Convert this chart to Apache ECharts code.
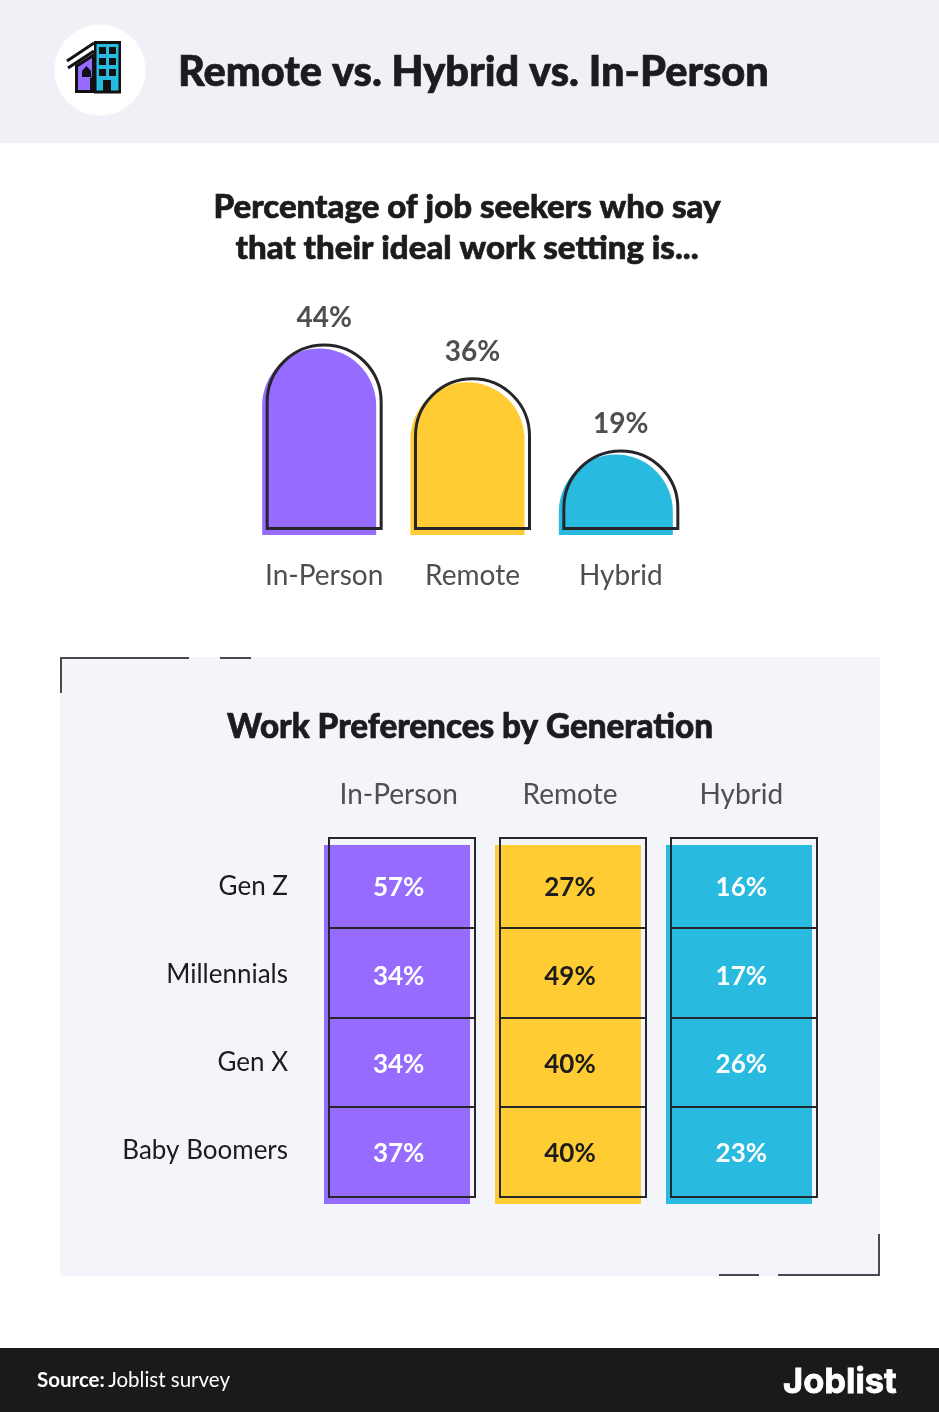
<!DOCTYPE html>
<html>
<head>
<meta charset="utf-8">
<style>html,body{margin:0;padding:0;background:#fff}#chart{width:939px;height:1412px}</style>
<script src="https://cdn.jsdelivr.net/npm/echarts@6/dist/echarts.min.js"></script>
</head>
<body>
<div id="chart"></div>
<script>
// Overall preference
const settings = ['In-Person', 'Remote', 'Hybrid'];
const overallShare = [44, 36, 19];

// Preference by generation
const generations = ['Gen Z', 'Millennials', 'Gen X', 'Baby Boomers'];
const inPersonByGeneration = [57, 34, 34, 37];
const remoteByGeneration = [27, 49, 40, 40];
const hybridByGeneration = [16, 17, 26, 23];

const PURPLE = '#966BFF', YELLOW = '#FFCC33', BLUE = '#29BADF';
const INK = '#1c1c1e', GREY = '#4f4f52', LINE = '#26262a';
const FONT = 'Lato';
const settingColours = [PURPLE, YELLOW, BLUE];
const valueTextColours = ['#ffffff', '#1c1c1e', '#ffffff'];
const tableValues = [inPersonByGeneration, remoteByGeneration, hybridByGeneration];

const chart = echarts.init(document.getElementById('chart'), null, { renderer: 'canvas' });

const bandAxis = (extra) => Object.assign({
  type: 'category', axisLine: { show: false }, axisTick: { show: false }, splitLine: { show: false }
}, extra);
const shareAxis = { type: 'value', min: 0, max: 50, show: false, splitLine: { show: false } };

// Table cell drawn on a settings × generations band grid
function cellItem(styleOf) {
  return function (params, api) {
    const centre = api.coord([api.value(0), api.value(1)]);
    const band = api.size([1, 1]);
    const w = Math.round(band[0] * 0.853);
    const x0 = Math.round(centre[0] - w / 2);
    const y0 = Math.round(centre[1] - band[1] / 2);
    const y1 = Math.round(centre[1] + band[1] / 2);
    return { type: 'rect', shape: { x: x0, y: y0, width: w, height: y1 - y0 }, style: styleOf() };
  };
}
const tableData = (col) => tableValues[col].map((v, row) => [settings[col], generations[row], v]);

const series = [
  // Arched bars: solid fill and offset outline
  {
    type: 'bar', xAxisIndex: 0, yAxisIndex: 0, z: 2, barWidth: 114, silent: true,
    data: overallShare.map((v, i) => ({ value: v, itemStyle: { color: settingColours[i] } })),
    itemStyle: { borderRadius: [57, 57, 0, 0] }
  },
  {
    type: 'bar', xAxisIndex: 1, yAxisIndex: 1, z: 3, barWidth: 117, silent: true,
    data: overallShare,
    itemStyle: { color: 'rgba(0,0,0,0)', borderColor: LINE, borderWidth: 3, borderRadius: [58, 58, 0, 0] },
    label: {
      show: true, position: 'top', distance: 11, formatter: '{c}%',
      fontFamily: FONT, fontWeight: 'bold', fontSize: 28, color: GREY
    }
  }
];

settings.forEach((name, col) => {
  series.push({
    type: 'custom', name, xAxisIndex: 2, yAxisIndex: 2, z: 2, silent: true,
    data: tableData(col), encode: { x: 0, y: 1 },
    renderItem: cellItem(() => ({ fill: settingColours[col] }))
  });
  series.push({
    type: 'custom', name, xAxisIndex: 3, yAxisIndex: 3, z: 3, silent: true,
    data: tableData(col), encode: { x: 0, y: 1 },
    renderItem: cellItem(() => ({ fill: 'rgba(0,0,0,0)', stroke: LINE, lineWidth: 2 }))
  });
  series.push({
    type: 'scatter', name, xAxisIndex: 4, yAxisIndex: 4, z: 4, silent: true, symbolSize: 0,
    itemStyle: { opacity: 1 },
    data: tableData(col), encode: { x: 0, y: 1 },
    label: {
      show: true, position: 'inside', formatter: (p) => p.value[2] + '%',
      fontFamily: FONT, fontWeight: 'bold', fontSize: 26, color: valueTextColours[col]
    }
  });
});

const headingStyle = {
  fontFamily: FONT, fontWeight: 900, color: INK, textBorderColor: INK, textBorderWidth: 0.7
};

const option = {
  animation: false,
  backgroundColor: '#ffffff',
  title: [
    {
      text: 'Remote vs. Hybrid vs. In-Person', left: 178, top: 52, padding: 0,
      textStyle: Object.assign({}, headingStyle, { fontSize: 41.5 })
    },
    {
      text: 'Percentage of job seekers who say\nthat their ideal work setting is...', left: 467, top: 187, padding: 0, textAlign: 'center',
      textStyle: Object.assign({}, headingStyle, { fontSize: 33, lineHeight: 41, align: 'center' })
    },
    {
      text: 'Work Preferences by Generation', left: 470, top: 711, padding: 0, textAlign: 'center',
      textStyle: Object.assign({}, headingStyle, { fontSize: 33.2 })
    }
  ],
  grid: [
    { left: 245, top: 323, width: 445, height: 212 },   // arch fills
    { left: 250, top: 318, width: 445, height: 212 },   // arch outlines
    { left: 311, top: 845, width: 514, height: 359 },   // table fills
    { left: 316, top: 838, width: 514, height: 359 },   // table outlines
    { left: 313, top: 843, width: 514, height: 355 },   // table values and column heads
    { left: 120, top: 843, width: 168, height: 352 }    // generation names
  ],
  xAxis: [
    bandAxis({ gridIndex: 0, data: settings, axisLabel: { show: false } }),
    bandAxis({
      gridIndex: 1, data: settings,
      axisLabel: { interval: 0, margin: 32, fontFamily: FONT, fontSize: 28, color: GREY }
    }),
    bandAxis({ gridIndex: 2, data: settings, axisLabel: { show: false } }),
    bandAxis({ gridIndex: 3, data: settings, axisLabel: { show: false } }),
    bandAxis({
      gridIndex: 4, data: settings, position: 'top',
      axisLabel: { interval: 0, margin: 34, fontFamily: FONT, fontSize: 28, color: GREY }
    }),
    { gridIndex: 5, type: 'value', show: false }
  ],
  yAxis: [
    Object.assign({ gridIndex: 0 }, shareAxis),
    Object.assign({ gridIndex: 1 }, shareAxis),
    bandAxis({ gridIndex: 2, data: generations, inverse: true, axisLabel: { show: false } }),
    bandAxis({ gridIndex: 3, data: generations, inverse: true, axisLabel: { show: false } }),
    bandAxis({ gridIndex: 4, data: generations, inverse: true, axisLabel: { show: false } }),
    bandAxis({
      gridIndex: 5, data: generations, inverse: true, position: 'right',
      axisLabel: { interval: 0, margin: 0, align: 'right', fontFamily: FONT, fontSize: 26, color: INK }
    })
  ],
  series,
  graphic: {
    elements: [
      // Page furniture
      { type: 'rect', z: 0, shape: { x: 0, y: 0, width: 939, height: 143 }, style: { fill: '#F0F1F7' } },
      { type: 'circle', z: 1, shape: { cx: 100, cy: 70, r: 45.5 }, style: { fill: '#ffffff' } },
      { type: 'rect', z: 0, shape: { x: 60, y: 657, width: 820, height: 619 }, style: { fill: '#F4F5FA' } },
      { type: 'rect', z: 0, shape: { x: 0, y: 1348, width: 939, height: 64 }, style: { fill: '#1A1A1A' } },

      // Corner brackets round the table panel
      { type: 'polyline', z: 1, shape: { points: [[61, 693], [61, 658], [189, 658]] }, style: { stroke: '#4a4a4e', lineWidth: 2, fill: 'none' } },
      { type: 'line', z: 1, shape: { x1: 220, y1: 658, x2: 251, y2: 658 }, style: { stroke: '#4a4a4e', lineWidth: 2 } },
      { type: 'polyline', z: 1, shape: { points: [[879, 1234], [879, 1275], [778, 1275]] }, style: { stroke: '#4a4a4e', lineWidth: 2, fill: 'none' } },
      { type: 'line', z: 1, shape: { x1: 719, y1: 1275, x2: 759, y2: 1275 }, style: { stroke: '#4a4a4e', lineWidth: 2 } },

      // Office building icon
      { type: 'polygon', z: 2, shape: { points: [[75, 93], [75, 65], [94, 53], [94, 93]] }, style: { fill: '#111' } },
      { type: 'polygon', z: 3, shape: { points: [[78, 90], [78, 67], [92, 58], [92, 75], [90, 82], [90, 90]] }, style: { fill: PURPLE } },
      { type: 'polygon', z: 3, shape: { points: [[82, 77], [82, 71], [86.5, 66], [91, 71], [91, 77]] }, style: { fill: '#111' } },
      { type: 'rect', z: 3, shape: { x: 90, y: 78, width: 4, height: 15 }, style: { fill: '#111' } },
      { type: 'rect', z: 2, shape: { x: 94, y: 41, width: 27, height: 52.5 }, style: { fill: '#111' } },
      { type: 'rect', z: 3, shape: { x: 96.5, y: 44, width: 22, height: 46.5 }, style: { fill: BLUE } },
      { type: 'rect', z: 4, shape: { x: 99, y: 47, width: 7, height: 7 }, style: { fill: '#111' } },
      { type: 'rect', z: 4, shape: { x: 109, y: 47, width: 7, height: 7 }, style: { fill: '#111' } },
      { type: 'rect', z: 4, shape: { x: 99, y: 58, width: 7, height: 7 }, style: { fill: '#111' } },
      { type: 'rect', z: 4, shape: { x: 109, y: 58, width: 7, height: 7 }, style: { fill: '#111' } },
      { type: 'rect', z: 4, shape: { x: 99, y: 69, width: 7, height: 7 }, style: { fill: '#111' } },
      { type: 'rect', z: 4, shape: { x: 109, y: 69, width: 7, height: 7 }, style: { fill: '#111' } },
      { type: 'rect', z: 4, shape: { x: 103, y: 80, width: 8, height: 11 }, style: { fill: '#111' } },
      { type: 'line', z: 5, shape: { x1: 67, y1: 61, x2: 94, y2: 43 }, style: { stroke: '#111', lineWidth: 3 } },
      { type: 'line', z: 5, shape: { x1: 68, y1: 68, x2: 94, y2: 51 }, style: { stroke: '#111', lineWidth: 3 } },

      // Footer
      {
        type: 'text', z: 5, x: 37, y: 1370,
        style: {
          text: '{b|Source:} {r|Joblist survey}',
          rich: {
            b: { fontFamily: FONT, fontWeight: 'bold', fontSize: 20.5, fill: '#ffffff', color: '#ffffff' },
            r: { fontFamily: FONT, fontSize: 20.5, fill: '#ffffff', color: '#ffffff' }
          }
        }
      },
      {
        type: 'text', z: 5, x: 783, y: 1365,
        style: {
          text: 'Joblist', fontFamily: 'Inter', fontWeight: 'bold', fontSize: 34.5, fill: '#ffffff',
          stroke: '#ffffff', lineWidth: 0.8
        }
      }
    ]
  }
};

chart.setOption(option);
</script>
</body>
</html>
